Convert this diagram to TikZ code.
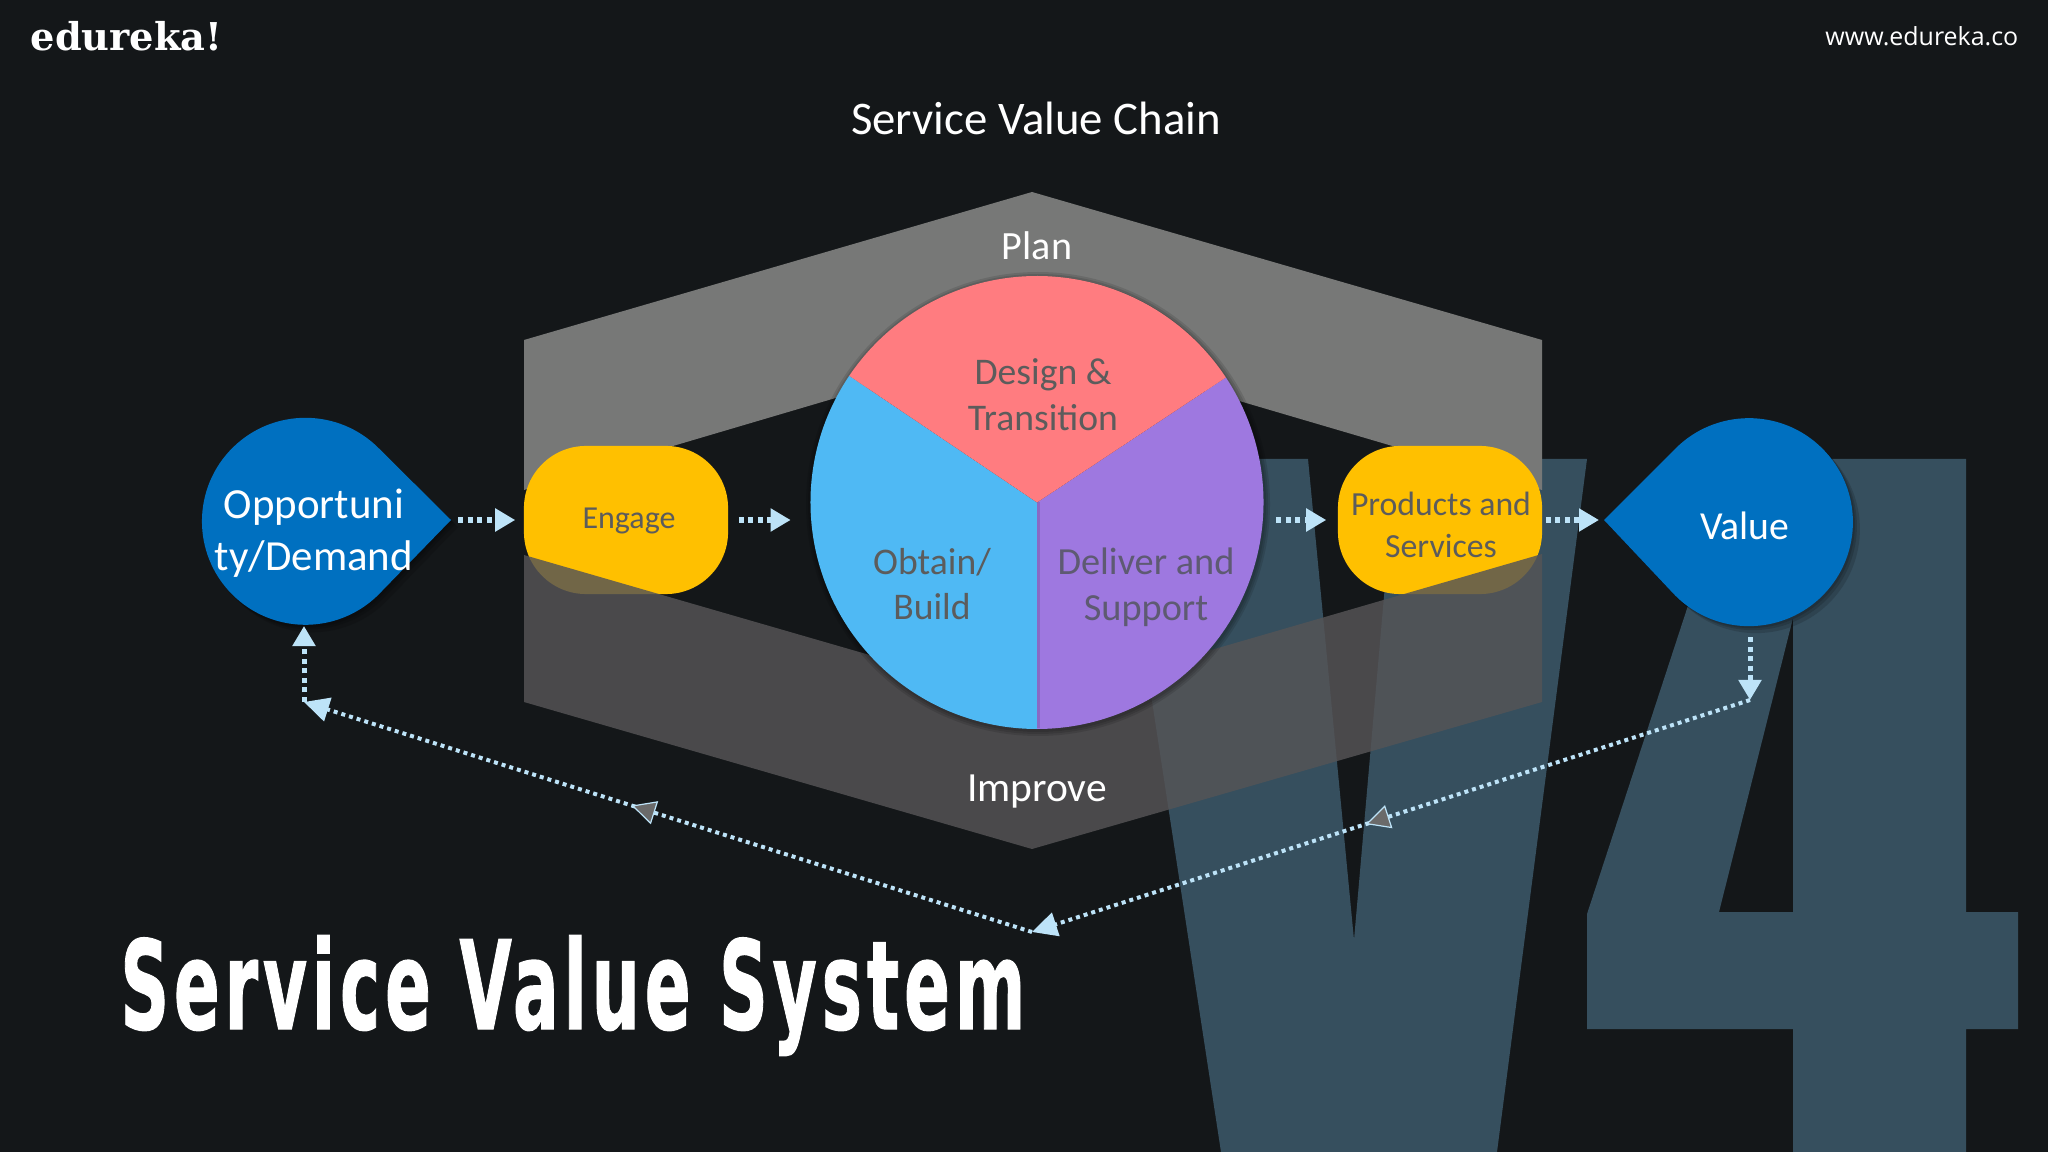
\documentclass[tikz,border=0pt]{standalone}
\usepackage{fontspec}
\setmainfont{Carlito}
\newfontfamily\titlefont{DejaVu Sans}[LetterSpace=7.2,FakeBold=1.2]
\newfontfamily\logofont{DejaVu Serif}
\newfontfamily\urlfont{Open Sans}
\usetikzlibrary{arrows.meta,decorations.markings}
\definecolor{bgdark}{HTML}{141719}
\definecolor{vfour}{HTML}{364F5E}
\definecolor{plangrey}{HTML}{777877}
\definecolor{impgrey}{HTML}{555456}
\definecolor{amber}{HTML}{FFC000}
\definecolor{dropblue}{HTML}{0070C0}
\definecolor{pinkseg}{HTML}{FF7C80}
\definecolor{blueseg}{HTML}{4FB9F4}
\definecolor{purpseg}{HTML}{9E78E0}
\definecolor{flowblue}{HTML}{BDE3F8}
\definecolor{darktxt}{HTML}{5C5C5C}
\definecolor{purptxt}{HTML}{5E5A72}
\definecolor{midtip}{HTML}{6A6A6A}
\tikzset{
  x=0.01cm, y=-0.01cm,
  sz/.style n args={2}{font=\fontsize{#1pt}{#2pt}\selectfont, align=center, inner sep=0pt},
  chip/.style={fill=amber, rounded corners=0.62cm, minimum width=2.04cm, minimum height=1.48cm,
    inner sep=0pt, text=darktxt, align=center},
  flow/.style={draw=flowblue, line width=0.05cm, dash pattern=on 0.05cm off 0.045cm,
    -{Triangle[length=0.2cm,width=0.22cm,fill=flowblue]}},
  longflow/.style={draw=flowblue, line width=0.04cm, dash pattern=on 0.04cm off 0.04cm,
    -{Triangle[length=0.25cm,width=0.24cm,fill=flowblue]}},
  midflow/.style={decoration={markings, mark=at position #1 with
    {\arrow{Triangle[length=0.24cm,width=0.24cm,fill=midtip,line width=0.012cm]}}},
    postaction={decorate}},
}
\begin{document}
\begin{tikzpicture}
  \useasboundingbox (0,0) rectangle (2048,1152);
  \fill[bgdark] (0,0) rectangle (2048,1152);

  % big V4 behind everything
  \fill[vfour] (1115,459) -- (1308,459) -- (1354,940) -- (1396,459) -- (1587,459)
    -- (1497,1152) -- (1221,1152) -- cycle;
  \fill[vfour, even odd rule] (1736,459) -- (1966,459) -- (1966,912) -- (2018,912) -- (2018,1029)
    -- (1966,1029) -- (1966,1152) -- (1793,1152) -- (1793,1029) -- (1587,1029) -- (1587,914) -- cycle
    (1793,618) -- (1719,912) -- (1793,912) -- cycle;

  % plan band
  \fill[plangrey] (524,340) -- (1032,192) -- (1542,340) -- (1542,490) -- (1032,340) -- (524,490) -- cycle;

  \node[chip] (engage) at (626,520) {};
  \node[sz={9.1}{11}, text=darktxt] (engagetxt) at (629,521) {Engage};
  \node[chip] (prod) at (1440,520) {};
  \node[sz={9.6}{11.8}, text=darktxt] (prodtxt) at (1441,525) {Products and\\Services};

  % improve band goes over the chips
  \fill[impgrey, opacity=.83] (524,555) -- (1032,702) -- (1542,554) -- (1542,702) -- (1032,849) -- (524,702) -- cycle;

  % wheel
  \foreach \r in {228,230,232}
    \fill[black, opacity=.11] (1038,504) circle (\r);
  \node[circle, minimum size=4.53cm, inner sep=0pt] (wheel) at (1037,502.5) {};
  \coordinate (hub) at (1037,502.5);
  \fill[blueseg] (hub) -- ++(-146:226.5) arc[start angle=-146, end angle=-270, radius=226.5] -- cycle;
  \fill[purpseg] (hub) -- ++(-33.5:226.5) arc[start angle=-33.5, end angle=90, radius=226.5] -- cycle;
  \fill[pinkseg] (hub) -- ++(-146:226.5) arc[start angle=-146, end angle=-33.5, radius=226.5] -- cycle;
  \draw[black, opacity=.12, line width=0.03cm] (1038.5,502) -- (1038.5,728);
  \node[sz={10.7}{13}, text=darktxt] (design) at (1043,395) {Design \&\\Transition};
  \node[sz={10.7}{13}, text=darktxt] (obtain) at (932,584) {Obtain/\\Build};
  \node[sz={10.9}{13.2}, text=purptxt] (deliver) at (1146,587) {Deliver and\\Support};

  % drops
  \foreach \s in {2,4,7}
    \fill[black, opacity=.14, shift={(\s,\s)}] (451,520) -- (379,449) arc[start angle=-44.7, end angle=-315.3, radius=103.5] -- cycle;
  \fill[dropblue] (451,520) -- (379,448.5) arc[start angle=-44.7, end angle=-315.3, radius=103.5] -- cycle;
  \foreach \s in {2,4,7}
    \fill[black, opacity=.14, shift={(\s,\s)}] (1604,520) -- (1675,449) arc[start angle=-135.3, end angle=135.3, radius=104] -- cycle;
  \fill[dropblue] (1604,520) -- (1675,449) arc[start angle=-135.3, end angle=135.3, radius=104] -- cycle;
  \coordinate (opptip) at (451,520);
  \coordinate (valtip) at (1604,520);
  \node[sz={12.2}{14.8}, text=white] (opp) at (314,533) {Opportuni\\ty/Demand};
  \node[sz={11.3}{13}, text=white] (val) at (1745,526) {Value};
  \coordinate (oppbot) at (304,626);
  \coordinate (valbot) at (1750,626);

  % flow along the top row
  \draw[flow, shorten <=0.07cm, shorten >=0.08cm] (opptip) -- (engage.west);
  \draw[flow, shorten <=0.1cm, shorten >=0.19cm] (engage.east) -- (engage.east -| wheel.west);
  \draw[flow, shorten <=0.12cm, shorten >=0.11cm] (wheel.east |- prod.west) -- (prod.west);
  \draw[flow, shorten <=0.03cm, shorten >=0.05cm] (prod.east) -- (valtip);

  % return loop
  \coordinate (rtcorner) at (1750,700);
  \coordinate (btcorner) at (1032,932);
  \coordinate (ltcorner) at (304,702);
  \draw[flow, shorten <=0.11cm] (valbot) -- (rtcorner);
  \draw[longflow, midflow=.535] (rtcorner) -- (btcorner);
  \draw[longflow, midflow=.55] (btcorner) -- (ltcorner);
  \draw[flow] (ltcorner) -- (oppbot);

  % captions
  \node[sz={13.3}{15}, text=white] (chain) at (1036,118) {Service Value Chain};
  \node[sz={11.4}{13}, text=white] (plan) at (1037,246) {Plan};
  \node[sz={11.8}{14}, text=white] (improve) at (1037,792) {Improve};
  \node[anchor=base west, inner sep=0pt, text=white, xscale=.55, transform shape,
    font=\titlefont\bfseries\fontsize{35pt}{40pt}\selectfont] (svs) at (120,1029) {Service Value System};
  \node[anchor=base west, inner sep=0pt, text=white, font=\logofont\bfseries\fontsize{10.9pt}{12pt}\selectfont]
    (logo) at (30,51) {edureka!};
  \node[anchor=base east, inner sep=0pt, text=white, font=\urlfont\fontsize{7.1pt}{9pt}\selectfont]
    (url) at (2019,46) {www.edureka.co};
\end{tikzpicture}
\end{document}
